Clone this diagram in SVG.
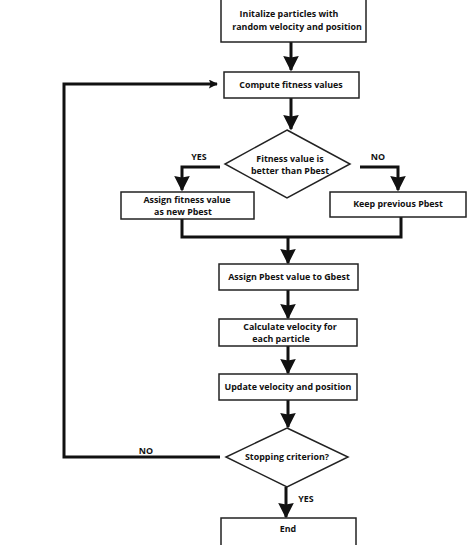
<svg xmlns="http://www.w3.org/2000/svg" width="474" height="545" viewBox="0 0 474 545">
<defs>
<style>
.box{fill:#fff;stroke:#222;stroke-width:1.5}
.t{font-family:"Open Sans","Liberation Sans",sans-serif;font-weight:700;font-size:8.9px;fill:#111;text-anchor:middle}
.c{fill:none;stroke:#111;stroke-width:3}
</style>
<marker id="ah" viewBox="0 0 10 10" refX="9" refY="5" markerWidth="5.8" markerHeight="5.2" orient="auto" markerUnits="strokeWidth">
<path d="M0,0 L10,5 L0,10 L1,5 z" fill="#111"/>
</marker>
<marker id="as" viewBox="0 0 10 10" refX="9" refY="5" markerWidth="3.3" markerHeight="3" orient="auto" markerUnits="strokeWidth">
<path d="M0,0 L10,5 L0,10 L2,5 z" fill="#111"/>
</marker>
</defs>
<rect width="474" height="545" fill="#fff"/>
<g id="connectors">
<path class="c" d="M291,42 V70" marker-end="url(#ah)"/>
<path class="c" d="M291,98 V129" marker-end="url(#ah)"/>
<path class="c" d="M220,167 H182 V190" marker-end="url(#ah)"/>
<path class="c" d="M360,167 H398 V190" marker-end="url(#ah)"/>
<path class="c" d="M182,219 V237 H401 V217"/>
<path class="c" d="M288,237 V263" marker-end="url(#ah)"/>
<path class="c" d="M288,290 V318" marker-end="url(#ah)"/>
<path class="c" d="M288,346 V373" marker-end="url(#ah)"/>
<path class="c" d="M288,400 V427" marker-end="url(#ah)"/>
<path class="c" d="M220,457 H64 V84 H217" marker-end="url(#as)"/>
<path class="c" d="M286,487 V517" marker-end="url(#ah)"/>
<text class="t" x="146" y="454">NO</text>
<text class="t" x="306" y="502">YES</text>
<text class="t" x="199" y="160">YES</text>
<text class="t" x="378" y="160">NO</text>
</g>
<g id="init">
<rect class="box" x="221" y="-1" width="145" height="43"/>
<text class="t" x="289" y="17">Initalize particles with</text>
<text class="t" x="297" y="30">random velocity and position</text>
</g>
<g id="compute">
<rect class="box" x="224" y="72" width="135" height="26"/>
<text class="t" x="291" y="88">Compute fitness values</text>
</g>
<g id="decision1">
<polygon class="box" points="287,130 350,164 287,198 225,164"/>
<text class="t" x="290" y="162">Fitness value is</text>
<text class="t" x="290" y="174">better than Pbest</text>
</g>
<g id="assign">
<rect class="box" x="121" y="192" width="133" height="27"/>
<text class="t" x="187" y="203">Assign fitness value</text>
<text class="t" x="183" y="215">as new Pbest</text>
</g>
<g id="keep">
<rect class="box" x="330" y="192" width="136" height="25"/>
<text class="t" x="398" y="207">Keep previous Pbest</text>
</g>
<g id="gbest">
<rect class="box" x="219" y="264" width="139" height="26"/>
<text class="t" x="289" y="280">Assign Pbest value to Gbest</text>
</g>
<g id="velocity">
<rect class="box" x="219" y="319" width="138" height="27"/>
<text class="t" x="290" y="330">Calculate velocity for</text>
<text class="t" x="281" y="342">each particle</text>
</g>
<g id="update">
<rect class="box" x="219" y="374" width="138" height="26"/>
<text class="t" x="288" y="390">Update velocity and position</text>
</g>
<g id="decision2">
<polygon class="box" points="287,428 348,457 287,487 226,457"/>
<text class="t" x="287" y="460">Stopping criterion?</text>
</g>
<g id="end">
<rect class="box" x="221" y="518" width="135" height="28"/>
<text class="t" x="288" y="532">End</text>
</g>
</svg>
